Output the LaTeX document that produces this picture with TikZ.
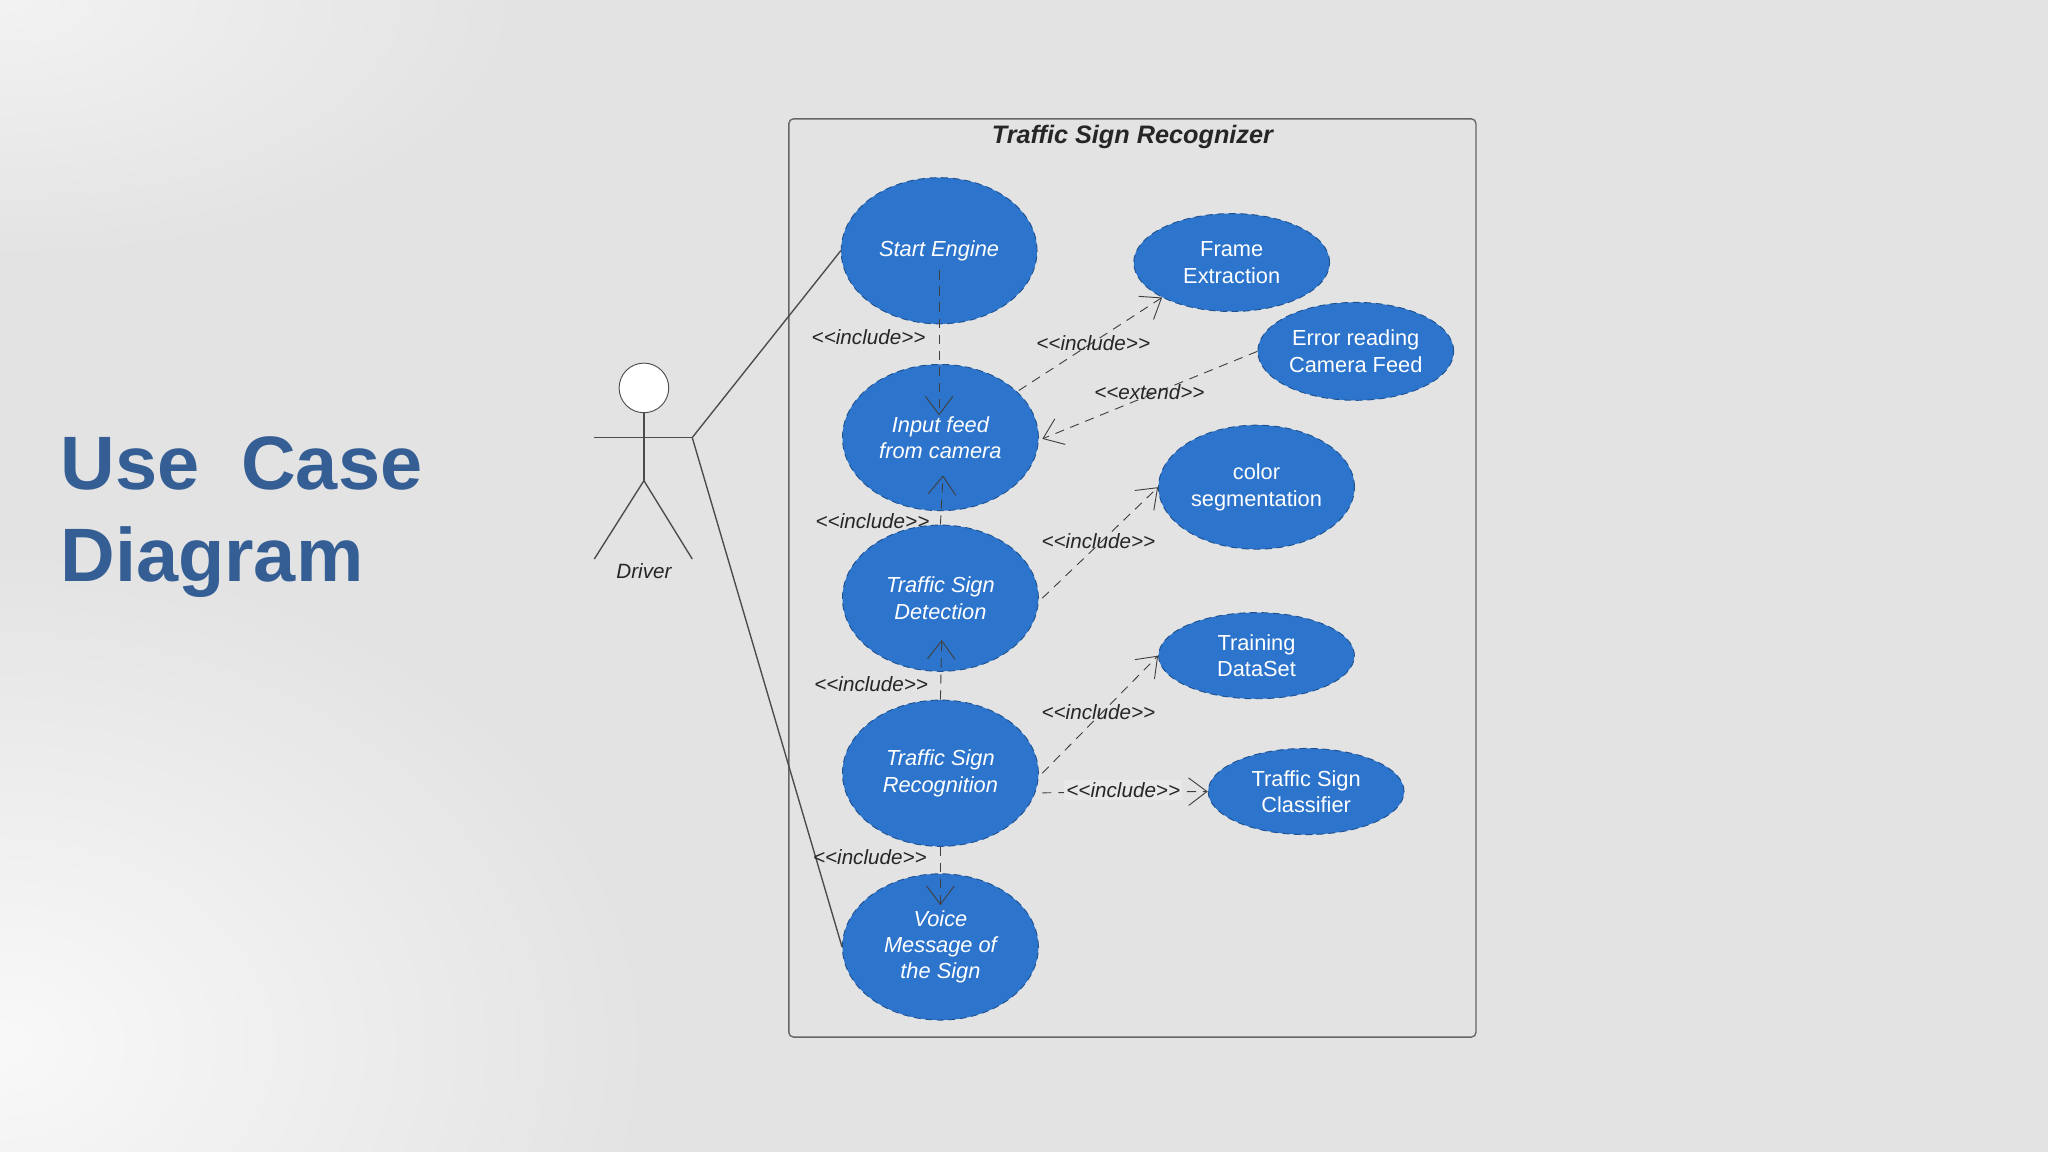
\documentclass[tikz,border=0pt]{standalone}
\usepackage{fontspec}
\setmainfont{Liberation Sans}
\usetikzlibrary{shapes.geometric,arrows.meta}
\definecolor{uc}{RGB}{44,116,204}
\definecolor{ttl}{RGB}{52,94,148}
\newcommand{\incl}{{<}{<}include{>}{>}}
\begin{document}
\begin{tikzpicture}[x=0.02cm,y=-0.02cm,
 uc/.style={ellipse,fill=uc,draw=uc!70!black,densely dashed,text=white,align=center,font=\fontsize{9.5}{11.5}\selectfont\itshape,inner sep=0pt},
 ur/.style={uc,font=\fontsize{9.5}{11.5}\selectfont},
 dep/.style={dash pattern=on 4pt off 3pt,draw=black!75,-{Straight Barb[length=8pt,width=12pt]}},
 lab/.style={font=\fontsize{9}{11}\selectfont\itshape,text=black!85},
 line/.style={draw=black!70,line width=0.6pt}]
\useasboundingbox (0,0) rectangle (1568,882);
\begin{scope}
\clip (0,0) rectangle (1568,882);
\fill[gray!22] (0,0) rectangle (1568,882);
\shade[inner color=gray!5,outer color=gray!22] (0,800) ellipse (500 and 380);
\shade[inner color=gray!10,outer color=gray!22] (0,0) ellipse (400 and 200);
\end{scope}
\node[font=\fontsize{33}{40}\selectfont\bfseries,text=ttl,align=left,anchor=north west] (t) at (40,328) {Use\ \ Case\\Diagram};
\draw[line,draw=black!60,rounded corners=2pt] (604,91) rectangle (1130,794);
\node[font=\fontsize{11}{13}\selectfont\bfseries\itshape,text=black!85] (bt) at (867,105) {Traffic Sign Recognizer};
% actor
\node[circle,draw=black!70,fill=white,minimum size=0.76cm,inner sep=0pt] (head) at (493,297) {};
\coordinate (hip) at (493,368);
\coordinate (sh) at (530,335);
\draw[line] (head.south) -- (hip);
\draw[line] (455,335) -- (sh);
\draw[line] (455,428) -- (hip) -- (530,428);
\node[lab] (drv) at (493,437) {Driver};
% use cases
\node[uc,minimum width=3cm,minimum height=2.24cm] (se) at (719,192) {Start Engine};
\node[uc,minimum width=3cm,minimum height=2.24cm] (inp) at (720,335) {Input feed\\from camera};
\node[uc,minimum width=3cm,minimum height=2.24cm] (tsd) at (720,458) {Traffic Sign\\Detection};
\node[uc,minimum width=3cm,minimum height=2.24cm] (tsr) at (720,592) {Traffic Sign\\Recognition};
\node[uc,minimum width=3cm,minimum height=2.24cm] (vm) at (720,725) {Voice\\Message of\\the Sign};
\node[ur,minimum width=3cm,minimum height=1.5cm] (fe) at (943,201) {Frame\\Extraction};
\node[ur,minimum width=3cm,minimum height=1.5cm] (er) at (1038,269) {Error reading\\Camera Feed};
\node[ur,minimum width=3cm,minimum height=1.9cm] (cs) at (962,373) {color\\segmentation};
\node[ur,minimum width=3cm,minimum height=1.32cm] (td) at (962,502) {Training\\DataSet};
\node[ur,minimum width=3cm,minimum height=1.32cm] (cl) at (1000,606) {Traffic Sign\\Classifier};
% associations
\draw[line] (sh) -- (se.west);
\draw[line] (sh) -- (vm.west);
% dependencies
\coordinate (s1) at (719,207);
\coordinate (e1) at (719,318);
\draw[dep] (s1) -- (e1);
\coordinate (e2) at (722,364);
\draw[dep] (tsd.north) -- (e2);
\coordinate (e3) at (721,490);
\draw[dep] (tsr.north) -- (e3);
\coordinate (e4) at (720,693);
\draw[dep] (tsr.south) -- (e4);
\coordinate (s5) at (780,299);
\draw[dep] (s5) -- (fe.south west);
\draw[dep] (er.west) -- (798,336);
\draw[dep] (798,458) -- (cs.west);
\draw[dep] (798,592) -- (td.west);
\draw[dep] (798,607) -- (cl.west);
\node[lab] (l1) at (665,258) {\incl};
\node[lab] (l2) at (837,263) {\incl};
\node[lab] (l3) at (880,300) {{<}{<}extend{>}{>}};
\node[lab] (l4) at (668,399) {\incl};
\node[lab] (l5) at (841,414) {\incl};
\node[lab] (l6) at (667,524) {\incl};
\node[lab] (l7) at (841,545) {\incl};
\node[lab,fill=gray!18,inner sep=1pt] (l8) at (860,605) {\incl};
\node[lab] (l9) at (666,656) {\incl};
\end{tikzpicture}
\end{document}
